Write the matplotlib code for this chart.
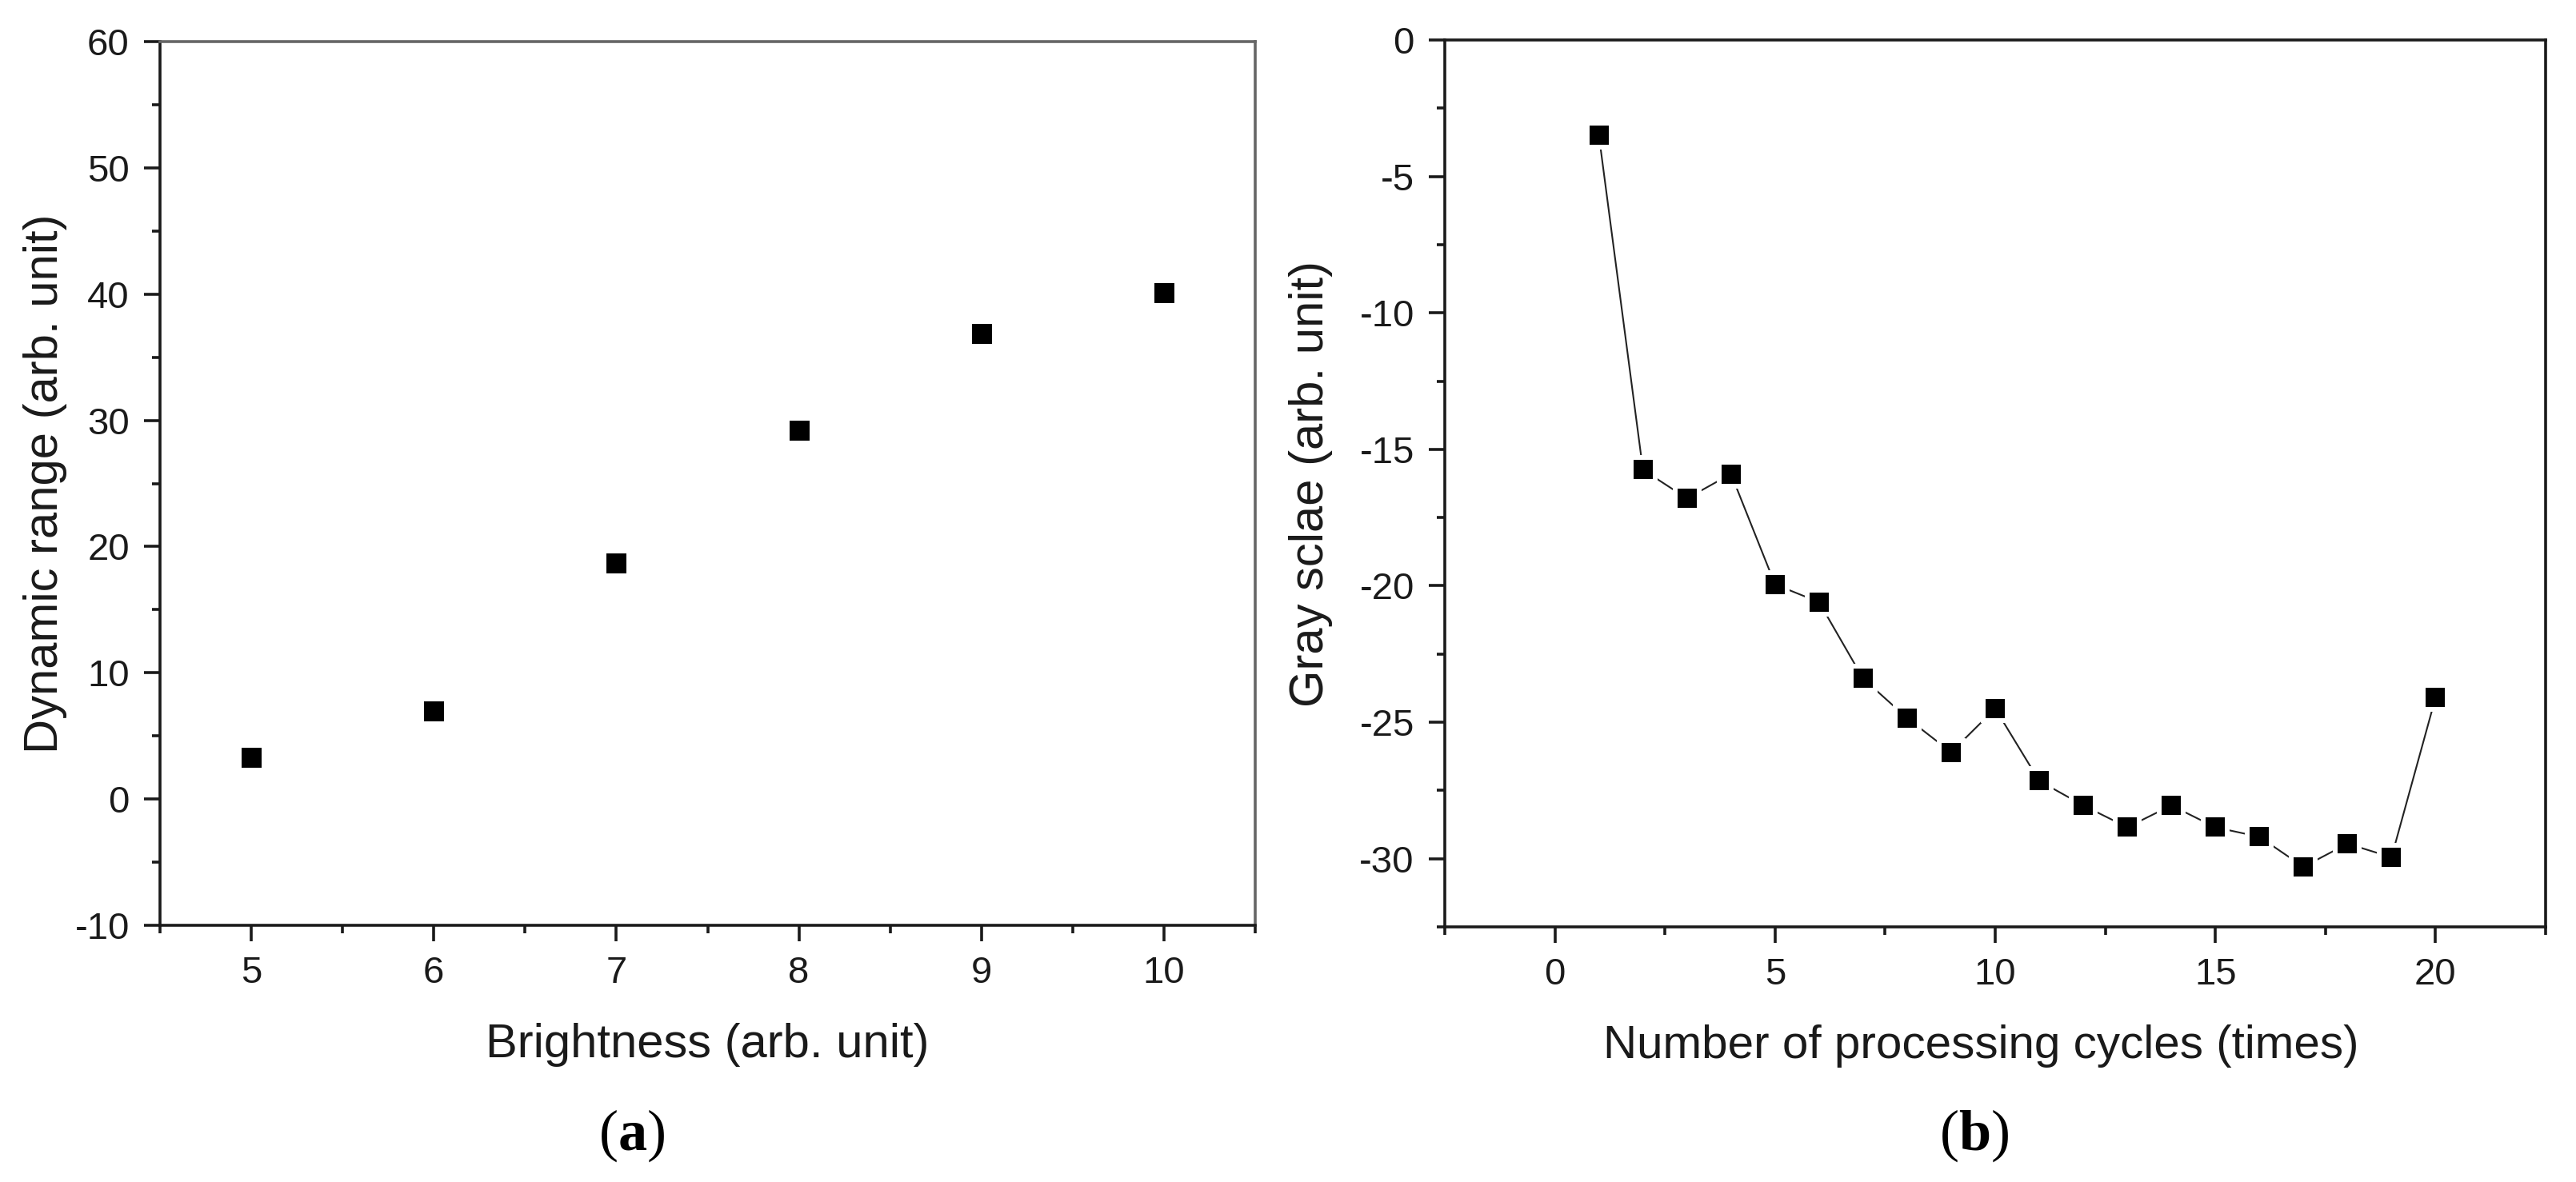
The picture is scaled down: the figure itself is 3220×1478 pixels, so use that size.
import matplotlib
matplotlib.use("Agg")
import matplotlib.pyplot as plt
from matplotlib.ticker import MultipleLocator

plt.rcParams['font.family'] = ['Liberation Sans', 'DejaVu Sans']
plt.rcParams['axes.unicode_minus'] = False
plt.rcParams['mathtext.fontset'] = 'custom'
plt.rcParams['mathtext.rm'] = 'Liberation Serif'
plt.rcParams['mathtext.bf'] = 'Liberation Serif:bold'

# Panel (a)
brightness = [5, 6, 7, 8, 9, 10]
dynamic_range = [3.3, 7.0, 18.7, 29.2, 36.9, 40.1]

# Panel (b)
cycles = list(range(1, 21))
gray_scale = [-3.5, -15.75, -16.8, -15.9, -19.95, -20.6, -23.4, -24.85, -26.1, -24.5,
              -27.15, -28.05, -28.85, -28.05, -28.85, -29.2, -30.3, -29.45, -29.95, -24.1]

fig = plt.figure(figsize=(32.2, 14.78), dpi=100)

ax1 = fig.add_axes([200/3220, 1 - 1157/1478, 1369/3220, 1105/1478])
ax2 = fig.add_axes([1806/3220, 1 - 1159/1478, 1376/3220, 1109/1478])

TXT = '#1a1a1a'
for ax in (ax1, ax2):
    for s in ax.spines.values():
        s.set_linewidth(2.6)
        s.set_color(TXT)
    ax.tick_params(which='major', direction='out', length=14.5, width=2.6, labelsize=34,
                   pad=13, colors=TXT, top=False, right=False)
    ax.tick_params(which='minor', direction='out', length=7.5, width=2.6, colors=TXT,
                   top=False, right=False)
ax1.spines['top'].set_color('#666666')
ax1.spines['right'].set_color('#666666')

ax1.plot(brightness, dynamic_range, linestyle='none', marker='s', markersize=18,
         markerfacecolor='black', markeredgewidth=0)
ax1.set_xlim(4.5, 10.5)
ax1.set_ylim(-10, 60)
ax1.xaxis.set_major_locator(MultipleLocator(1))
ax1.xaxis.set_minor_locator(MultipleLocator(0.5))
ax1.yaxis.set_major_locator(MultipleLocator(10))
ax1.yaxis.set_minor_locator(MultipleLocator(5))
ax1.set_xlabel('Brightness (arb. unit)', fontsize=43, color=TXT)
ax1.set_ylabel('Dynamic range (arb. unit)', fontsize=43, color=TXT)
ax1.xaxis.set_label_coords(0.5, -0.11)
ax1.yaxis.set_label_coords(-0.085, 0.5)

ax2.plot(cycles, gray_scale, linestyle='-', linewidth=1.5, color='#222222',
         marker='s', markersize=22.3, markerfacecolor='black',
         markeredgecolor='white', markeredgewidth=4.3)
ax2.set_xlim(-2.5, 22.5)
ax2.set_ylim(-32.5, 0)
ax2.xaxis.set_major_locator(MultipleLocator(5))
ax2.xaxis.set_minor_locator(MultipleLocator(2.5))
ax2.yaxis.set_major_locator(MultipleLocator(5))
ax2.yaxis.set_minor_locator(MultipleLocator(2.5))
ax2.set_xlabel('Number of processing cycles (times)', fontsize=42, color=TXT)
ax2.set_ylabel('Gray sclae (arb. unit)', fontsize=43, color=TXT)
ax2.xaxis.set_label_coords(0.487, -0.11)
ax2.yaxis.set_label_coords(-0.102, 0.5)

fig.text(790/3220, 1 - 1420/1478, r'$\mathrm{(}\mathbf{a}\mathrm{)}$', fontsize=52,
         ha='center', va='center', color='black')
fig.text(2468/3220, 1 - 1420/1478, r'$\mathrm{(}\mathbf{b}\mathrm{)}$', fontsize=52,
         ha='center', va='center', color='black')

fig.savefig('out.png', dpi=100, facecolor='white')
